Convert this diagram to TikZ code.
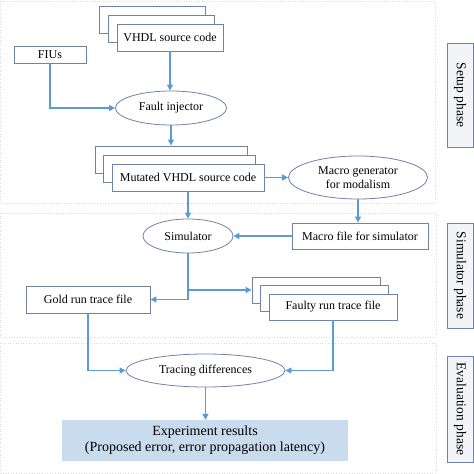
\documentclass[tikz,border=0pt]{standalone}
\usepackage{fontspec}
\setmainfont{Liberation Serif}
\usetikzlibrary{shapes.geometric,arrows.meta}
\definecolor{arrc}{HTML}{5B9BD5}
\definecolor{boxc}{HTML}{6F82A8}
\definecolor{regc}{HTML}{D5DCE6}
\definecolor{expc}{HTML}{C9DCEE}
\definecolor{sidec}{HTML}{F3F4F7}
\tikzset{
  box/.style={draw=boxc, fill=white, line width=0.8pt, inner sep=0pt, font=\fontsize{12}{14}\selectfont},
  oval/.style={ellipse, draw=boxc, fill=white, line width=0.8pt, inner sep=0pt, font=\fontsize{12}{14}\selectfont},
  arr/.style={draw=arrc, line width=1.3pt, -{Triangle[length=6pt,width=6pt]}},
  region/.style={draw=regc, line width=0.6pt, dotted},
  side/.style={draw=boxc, fill=sidec, line width=0.8pt, rotate=-90, inner sep=0pt, font=\fontsize{13.5}{15}\selectfont}
}
\begin{document}
\begin{tikzpicture}[x=1pt,y=-1pt]
\useasboundingbox (0,0) rectangle (474,474);
% phase regions
\draw[region] (0.5,1) rectangle (435,203);
\draw[region] (0.5,213) rectangle (436,337);
\draw[region] (0.5,343) rectangle (436,473);
% side labels
\node[side, minimum width=104pt, minimum height=26pt] (ps) at (460,95) {Setup phase};
\node[side, minimum width=105pt, minimum height=26pt] (pm) at (460,275.5) {Simulator phase};
\node[side, minimum width=106pt, minimum height=26pt] (pe) at (460,409) {Evaluation phase};
% VHDL stack
\node[box, minimum width=106pt, minimum height=27pt] (vb2) at (152,19.5) {};
\node[box, minimum width=106pt, minimum height=27pt] (vb1) at (161,28.5) {};
\node[box, minimum width=106pt, minimum height=27pt] (vhdl) at (170,37.5) {VHDL source code};
% FIUs
\node[box, minimum width=72pt, minimum height=17pt] (fius) at (50,54.5) {FIUs};
% fault injector
\node[oval, minimum width=111pt, minimum height=34pt] (fault) at (171,108) {Fault injector};
% mutated stack
\node[box, minimum width=152pt, minimum height=27pt] (mb2) at (171,159.5) {};
\node[box, minimum width=152pt, minimum height=27pt] (mb1) at (179.5,168.5) {};
\node[box, minimum width=152pt, minimum height=27pt] (mut) at (188,177.5) {Mutated VHDL source code};
% macro generator
\node[oval, minimum width=139pt, minimum height=43pt, align=center] (mgen) at (358,177.5) {Macro generator\\for modalism};
% simulator
\node[oval, minimum width=90pt, minimum height=34pt] (sim) at (188,236) {Simulator};
% macro file
\node[box, minimum width=136pt, minimum height=26pt] (mfile) at (360,236) {Macro file for simulator};
% gold
\node[box, minimum width=124pt, minimum height=27pt] (gold) at (88,299.5) {Gold run trace file};
% faulty stack
\node[box, minimum width=128pt, minimum height=26pt] (fb2) at (316,290) {};
\node[box, minimum width=128pt, minimum height=26pt] (fb1) at (324.5,298.5) {};
\node[box, minimum width=128pt, minimum height=26pt] (faulty) at (333,307) {Faulty run trace file};
% tracing differences
\node[oval, minimum width=159pt, minimum height=33pt] (trace) at (205.5,370.5) {Tracing differences};
% experiment results
\node[fill=expc, minimum width=286pt, minimum height=41pt, inner sep=0pt, align=center, font=\fontsize{14}{16}\selectfont] (exp) at (205,440.5) {Experiment results\\(Proposed error, error propagation latency)};
% connectors
\draw[arr] (fius.south) |- (fault.west);
\draw[arr] (vhdl.south) -- (vhdl.south |- fault.north);
\draw[arr] (fault.south) -- (fault.south |- mb2.north);
\draw[arr] (mut.east) -- (mgen.west);
\draw[arr] (mut.south) -- (sim.north);
\draw[arr] (mgen.south) -- (mgen.south |- mfile.north);
\draw[arr] (mfile.west) -- (sim.east);
\draw[arr] (sim.south) |- (gold.east);
\draw[arr] (sim.south |- fb2.west) -- (fb2.west);
\draw[arr] (gold.south) |- (trace.west);
\draw[arr] (faulty.south) |- (trace.east);
\draw[arr] (trace.south) -- (trace.south |- exp.north);
\end{tikzpicture}
\end{document}
